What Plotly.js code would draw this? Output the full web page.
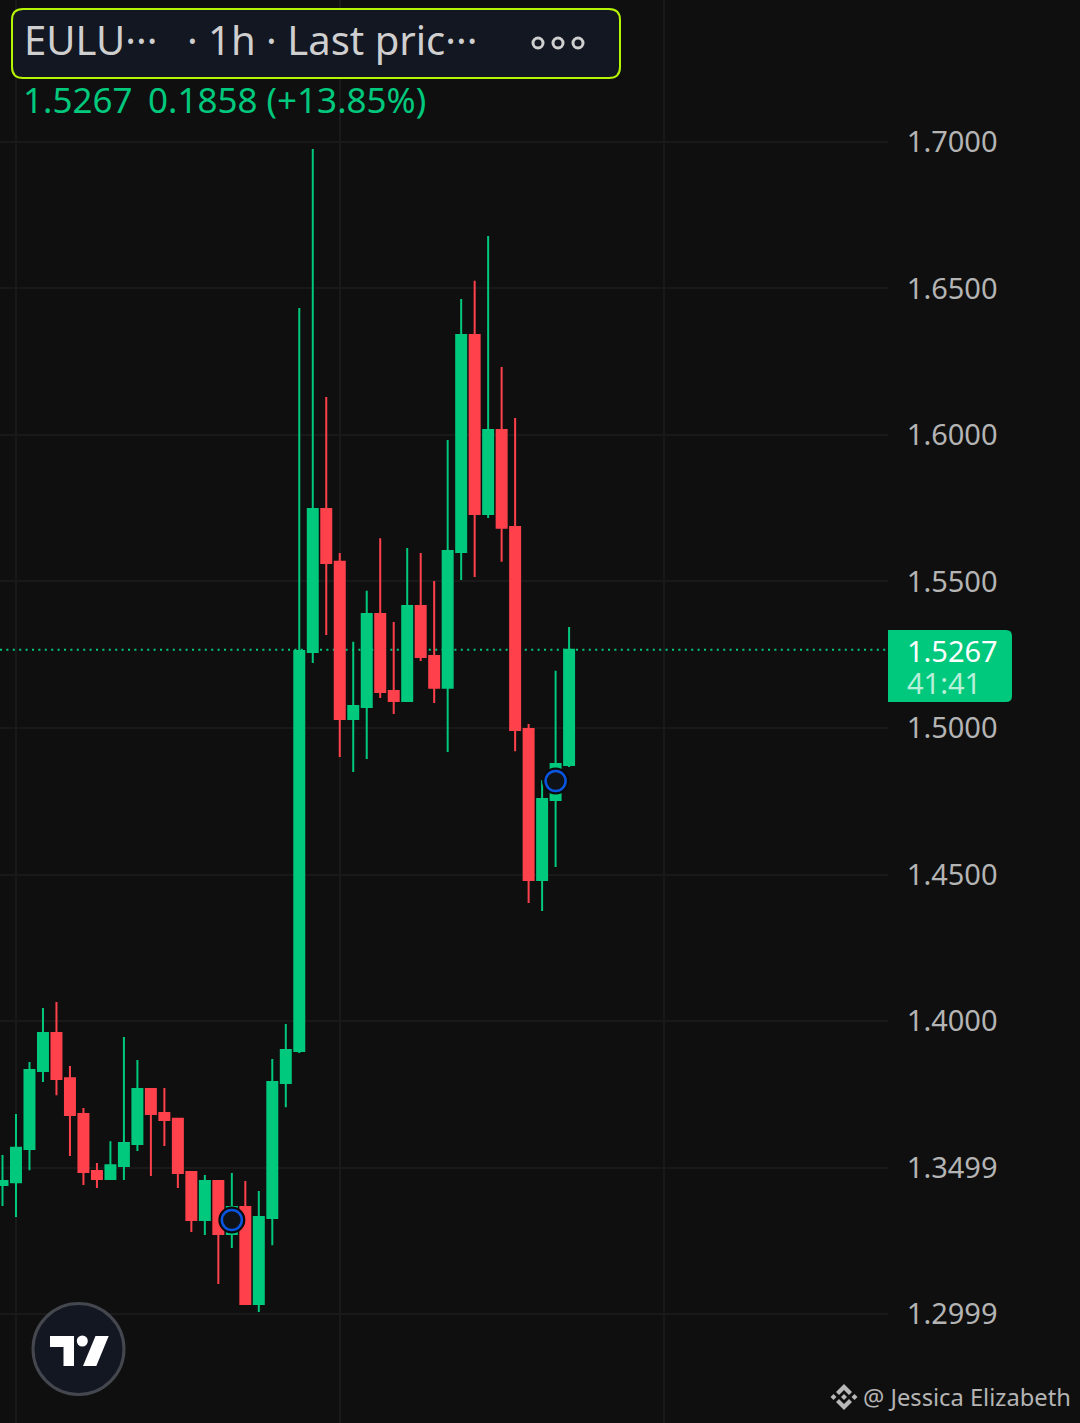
<!DOCTYPE html>
<html><head><meta charset="utf-8">
<script src="https://cdn.plot.ly/plotly-3.0.1.min.js"></script>
<style>html,body{margin:0;padding:0;background:#0f0f0f;overflow:hidden}#chart{width:1080px;height:1423px}</style>
</head><body><div id="chart"></div>
<script>
const hours=[0,1,2,3,4,5,6,7,8,9,10,11,12,13,14,15,16,17,18,19,20,21,22,23,24,25,26,27,28,29,30,31,32,33,34,35,36,37,38,39,40,41,42];
const open=[1.3440,1.3450,1.3563,1.3829,1.3959,1.3805,1.3683,1.3488,1.3461,1.3505,1.3580,1.3768,1.3686,1.3666,1.3485,1.3321,1.3454,1.3273,1.3365,1.3034,1.3328,1.3788,1.3898,1.5259,1.5747,1.5567,1.5031,1.5072,1.5389,1.5126,1.5092,1.5416,1.5246,1.5137,1.5601,1.6341,1.5730,1.6017,1.5686,1.4997,1.4481,1.4754,1.4874];
const high=[1.3543,1.3683,1.3860,1.4044,1.4065,1.3846,1.3703,1.3515,1.3590,1.3945,1.3867,1.3771,1.3771,1.3666,1.3485,1.3474,1.3454,1.3481,1.3454,1.3420,1.3870,1.3990,1.6433,1.6976,1.6130,1.5597,1.5294,1.5468,1.5648,1.5362,1.5614,1.5597,1.5502,1.5983,1.6464,1.6526,1.6679,1.6232,1.6058,1.5014,1.4822,1.5195,1.5345];
const low=[1.3369,1.3331,1.3491,1.3792,1.3747,1.3539,1.3440,1.3430,1.3457,1.3457,1.3556,1.3471,1.3573,1.3430,1.3280,1.3270,1.3102,1.3225,1.3034,1.3007,1.3235,1.3706,1.3891,1.5222,1.5317,1.4901,1.4850,1.4894,1.5102,1.5048,1.5089,1.5229,1.5085,1.4918,1.5505,1.5515,1.5717,1.5567,1.4921,1.4403,1.4375,1.4526,1.4867];
const close=[1.3454,1.3567,1.3833,1.3959,1.3802,1.3679,1.3485,1.3461,1.3508,1.3584,1.3768,1.3683,1.3662,1.3481,1.3321,1.3454,1.3273,1.3365,1.3034,1.3331,1.3792,1.3901,1.5263,1.5747,1.5563,1.5031,1.5075,1.5389,1.5123,1.5092,1.5416,1.5242,1.5137,1.5604,1.6341,1.5730,1.6017,1.5683,1.4993,1.4481,1.4758,1.4877,1.5267];
const signalHours=[17,41];
const signalPrices=[1.3321,1.4819];
const tickPrices=[1.30,1.35,1.40,1.45,1.50,1.55,1.60,1.65,1.70];
const tickLabels=['1.2999','1.3499','1.4000','1.4500','1.5000','1.5500','1.6000','1.6500','1.7000'];
const dayGridHours=[1,25,49];
const lastPrice=1.5267;
const headerLeft='EULU···';
const headerRight='· 1h · Last pric···';
const quotePrice='1.5267';
const quoteChange='0.1858 (+13.85%)';
const timerText='41:41';
const creditText='@ Jessica Elizabeth';

const W=1080,H=1423,PW=888;
const GREEN='#00c87d',RED='#ff414c',BG='#0f0f0f',GRID='#191919';
const FONT='"Noto Sans", sans-serif';
const px=x=>x/PW, py=y=>1-y/H;
const pt=(x,y)=>px(x)+','+py(y);
function poly(pts){return 'M'+pts.map(p=>pt(p[0],p[1])).join(' L')+' Z';}
function rrect(x0,y0,x1,y1,rl,rr){
  return 'M'+pt(x0+rl,y0)+' L'+pt(x1-rr,y0)+' Q'+pt(x1,y0)+' '+pt(x1,y0+rr)+
    ' L'+pt(x1,y1-rr)+' Q'+pt(x1,y1)+' '+pt(x1-rr,y1)+' L'+pt(x0+rl,y1)+
    ' Q'+pt(x0,y1)+' '+pt(x0,y1-rl)+' L'+pt(x0,y0+rl)+' Q'+pt(x0,y0)+' '+pt(x0+rl,y0)+' Z';
}
function pathShape(d,fill,line,lw,layer){
  return {type:'path',xref:'paper',yref:'paper',path:d,fillcolor:fill,layer:layer||'above',
    line:{color:line||'rgba(0,0,0,0)',width:lw||0}};
}
function circle(cx,cy,r,fill,line,lw){
  return {type:'circle',xref:'paper',yref:'paper',x0:px(cx-r),x1:px(cx+r),y0:py(cy+r),y1:py(cy-r),
    fillcolor:fill,layer:'above',line:{color:line||'rgba(0,0,0,0)',width:lw||0}};
}
function label(x,y,text,size,color){
  return {xref:'paper',yref:'paper',x:px(x),y:py(y),text:text,showarrow:false,xanchor:'left',yanchor:'middle',
    align:'left',borderpad:0,borderwidth:0,font:{family:FONT,size:size,color:color}};
}
const bx=844,by=1397,bc='#b8b8b8';
const shapes=[
  {type:'line',xref:'paper',yref:'y',x0:0,x1:1,y0:lastPrice,y1:lastPrice,layer:'below',
    line:{color:GREEN,width:2,dash:'2px,4.4px'}},
  pathShape(rrect(12,9,620,78,11,11),'#131722','#b6f500',2),
  circle(538,43,5,'rgba(0,0,0,0)','#cfcfcf',3),
  circle(558,43,5,'rgba(0,0,0,0)','#cfcfcf',3),
  circle(578,43,5,'rgba(0,0,0,0)','#cfcfcf',3),
  pathShape(rrect(888,630,1012,702,0,6),GREEN),
  circle(78.5,1349,45.5,'#131722','#45474f',3),
  pathShape(poly([[50,1336],[74,1336],[74,1366],[63.5,1366],[63.5,1347],[50,1347]]),'#ffffff'),
  circle(82.3,1341,5.5,'#ffffff'),
  pathShape(poly([[95.5,1336],[108.7,1336],[96.3,1366],[83,1366]]),'#ffffff'),
  pathShape(poly([[bx,by-13],[bx+8,by-5],[bx+5,by-2],[bx,by-7],[bx-5,by-2],[bx-8,by-5]]),bc),
  pathShape(poly([[bx,by+13],[bx+8,by+5],[bx+5,by+2],[bx,by+7],[bx-5,by+2],[bx-8,by+5]]),bc),
  pathShape(poly([[bx-13.5,by],[bx-10.5,by-3],[bx-7.5,by],[bx-10.5,by+3]]),bc),
  pathShape(poly([[bx+13.5,by],[bx+10.5,by-3],[bx+7.5,by],[bx+10.5,by+3]]),bc),
  pathShape(poly([[bx-3,by],[bx,by-3],[bx+3,by],[bx,by+3]]),bc)
];
const annotations=[
  label(24,40,headerLeft,40,'#cfcfcf'),
  label(187,40,headerRight,40,'#cfcfcf'),
  label(23,100,quotePrice,35,GREEN),
  label(148,100,quoteChange,35,GREEN),
  label(907,650,lastPrice.toFixed(4),29,'#ffffff'),
  label(907,682,timerText,29,'#b6f0d9'),
  label(863,1397,creditText,23.7,'#b4b4b4')
];
const traces=[
  {type:'candlestick',x:hours,open:open,high:high,low:low,close:close,hoverinfo:'skip',showlegend:false,
    increasing:{line:{color:GREEN,width:2},fillcolor:GREEN},
    decreasing:{line:{color:RED,width:2},fillcolor:RED},whiskerwidth:0},
  {type:'scatter',mode:'markers',x:signalHours,y:signalPrices,hoverinfo:'skip',showlegend:false,
    marker:{size:27,color:'#0a0a0a',line:{width:0}}},
  {type:'scatter',mode:'markers',x:signalHours,y:signalPrices,hoverinfo:'skip',showlegend:false,
    marker:{size:20,color:'#0f1216',line:{width:2.5,color:'#0a55e0'}}}
];
const layout={
  width:W,height:H,paper_bgcolor:BG,plot_bgcolor:BG,showlegend:false,
  margin:{l:0,r:W-PW,t:0,b:0,pad:0},boxgap:0.26,boxgroupgap:0,dragmode:false,
  xaxis:{range:[-0.185,65.64],rangeslider:{visible:false},tickmode:'array',tickvals:dayGridHours,
    showticklabels:false,ticks:'',showgrid:true,gridcolor:GRID,gridwidth:2,zeroline:false,showline:false},
  yaxis:{side:'right',range:[1.26280,1.74846],tickmode:'array',tickvals:tickPrices,ticktext:tickLabels,
    showgrid:true,gridcolor:GRID,gridwidth:2,zeroline:false,showline:false,automargin:false,
    ticks:'outside',ticklen:12,tickcolor:'rgba(0,0,0,0)',tickwidth:1,ticklabelshift:-1.5,
    tickfont:{family:FONT,size:29,color:'#b4b4b4'}},
  shapes:shapes,annotations:annotations
};
Plotly.newPlot('chart',traces,layout,{staticPlot:true,displayModeBar:false});
</script></body></html>
